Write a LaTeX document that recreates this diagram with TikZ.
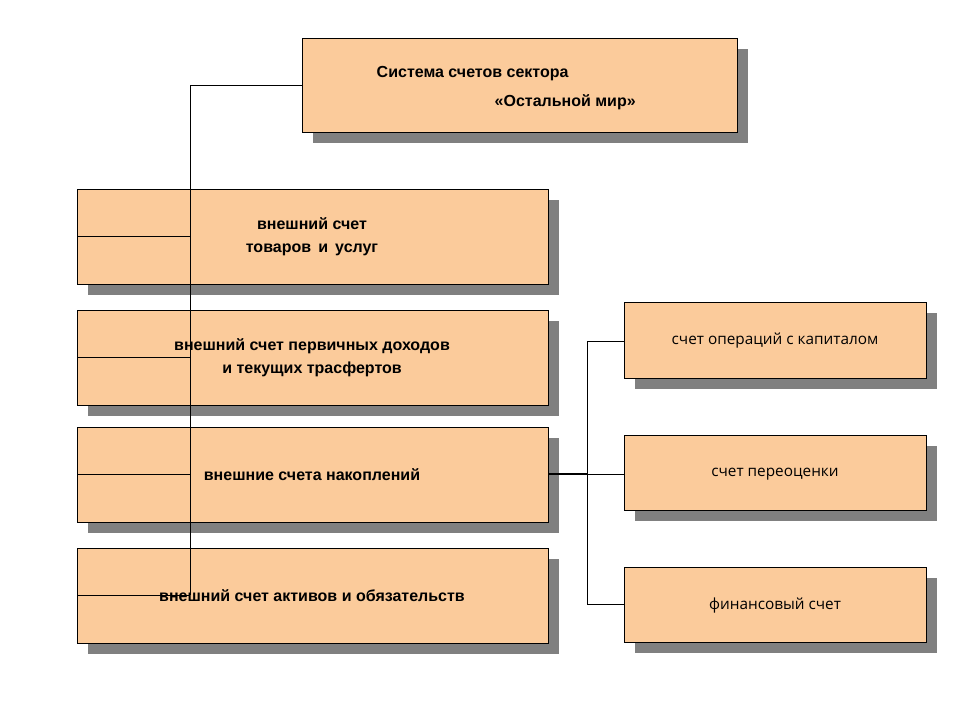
\documentclass[tikz,border=0pt]{standalone}
\usepackage{fontspec}
\setmainfont{Liberation Sans}
\newfontfamily\opensans{Open Sans}
\definecolor{peach}{HTML}{FBCB9B}
\definecolor{shad}{HTML}{808080}
\begin{document}
\begin{tikzpicture}[x=0.75pt,y=-0.75pt,
  box/.style={draw=black,fill=peach,line width=0.6pt},
  lbl/.style={font=\bfseries\fontsize{12}{15}\selectfont,align=center},
  rl/.style={font=\opensans\fontsize{11.5}{14}\selectfont},
  ln/.style={line width=0.7pt}]
\useasboundingbox (0,0) rectangle (960,720);
\newcommand\myshbox[5]{% name x1 y1 x2 y2
  \fill[shad] (#2+11,#3+11) rectangle (#4+11,#5+11);
  \draw[box] (#2,#3) rectangle (#4,#5);
  \coordinate (#1) at ({(#2+#4)/2},{(#3+#5)/2});}
\myshbox{top}{302}{38}{737}{132}
\myshbox{b1}{77}{189}{548}{284}
\myshbox{b2}{77}{310}{548}{405}
\myshbox{b3}{77}{427}{548}{522}
\myshbox{b4}{77}{548}{548}{643}
\myshbox{r1}{624}{302}{926}{378}
\myshbox{r2}{624}{435}{926}{510}
\myshbox{r3}{624}{567}{926}{642}
% left connectors
\coordinate (v0) at (190,85);
\coordinate (v4) at (190,595);
\draw[ln] (302,85) -- (v0) -- (v4);
\foreach \y in {236,357,474,595} \draw[ln] (77,\y) -- (190,\y);
% right connectors
\coordinate (j) at (587,474);
\draw[line width=1.4pt] (548,474) -- (j);
\draw[ln] (587,341) -- (587,604);
\draw[ln] (587,341) -- (624,341);
\draw[ln] (587,474) -- (624,474);
\draw[ln] (587,604) -- (624,604);
% texts
\node[lbl,anchor=west] (t1) at (372,74) {Система счетов сектора};
\node[lbl,anchor=west] (t2) at (490,102) {«Остальной мир»};
\node[lbl] (tb1) at (312,237) {внешний счет\\[2pt]товаров\, и\, услуг};
\node[lbl] (tb2) at (312,358) {внешний счет первичных доходов\\[2pt]и текущих трасфертов};
\node[lbl] (tb3) at (312,475) {внешние счета накоплений};
\node[lbl] (tb4) at (312,596) {внешний счет активов и обязательств};
\node[rl] (tr1) at (775,341) {счет операций с капиталом};
\node[rl] (tr2) at (775,474) {счет переоценки};
\node[rl] (tr3) at (775,606) {финансовый счет};
\end{tikzpicture}
\end{document}
